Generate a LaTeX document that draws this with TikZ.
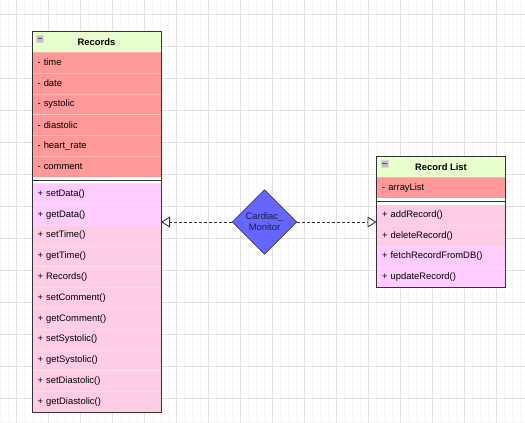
\documentclass[tikz,border=0pt]{standalone}
\usepackage{fontspec}
\setmainfont{Liberation Sans}
\usetikzlibrary{positioning}
\usetikzlibrary{fit}
\usetikzlibrary{arrows.meta}
\usetikzlibrary{shapes.geometric}

\definecolor{headgreen}{RGB}{230,255,204}
\definecolor{attrred}{RGB}{255,153,153}
\definecolor{opspink}{RGB}{255,204,230}
\definecolor{opsviolet}{RGB}{255,204,255}
\definecolor{monitorblue}{RGB}{102,102,255}
\definecolor{monitortext}{RGB}{26,26,77}
\definecolor{outline}{RGB}{51,51,51}
\definecolor{gridmajor}{RGB}{226,226,226}
\definecolor{gridminor}{RGB}{247,247,247}

\begin{document}
\begin{tikzpicture}[x=1pt,y=-1pt,node distance=0pt,font=\fontsize{9.4}{11}\selectfont,
  >={Triangle[length=9pt,width=11pt,fill=white]},
  every node/.style={outer sep=0pt},
  head/.style={rectangle,fill=headgreen,minimum width=129pt,minimum height=20.4pt,inner sep=0pt,font=\fontsize{9.4}{11}\selectfont\bfseries},
  row/.style={rectangle,draw=white,draw opacity=0.25,minimum height=20.8pt,text width=118pt,inner xsep=5.5pt,inner ysep=0pt,align=left},
  attr/.style={row,fill=attrred},
  opa/.style={row,fill=opspink},
  opb/.style={row,fill=opsviolet},
  sepbox/.style={rectangle,fill=white,minimum width=129pt,minimum height=6.5pt,inner sep=0pt,
    path picture={\draw[outline,line width=0.9pt] (path picture bounding box.west) -- (path picture bounding box.east);}},
  classbox/.style={rectangle,draw=outline,line width=0.9pt,inner sep=0pt},
  icon/.style={rectangle,fill=gray!50,draw=gray!30,minimum width=7pt,minimum height=6.5pt,inner sep=0pt,
    path picture={\draw[black!65,line width=1.2pt] ([xshift=1.3pt]path picture bounding box.west) -- ([xshift=-1.3pt]path picture bounding box.east);}},
  monitor/.style={diamond,draw=outline,fill=monitorblue,minimum width=64.5pt,minimum height=64.5pt,inner sep=0pt,align=center,text=monitortext},
  link/.style={draw=outline,line width=0.9pt,dash pattern=on 3pt off 2pt,->}]
  \useasboundingbox (0,0) rectangle (525,423);
  % grid
  \foreach \gx in {0,8,...,520} \draw[gridminor,line width=0.8pt] (\gx,0) -- (\gx,423);
  \foreach \gy in {6,14,...,422} \draw[gridminor,line width=0.8pt] (0,\gy) -- (525,\gy);
  \foreach \gx in {16,48,...,520} \draw[gridmajor,line width=0.8pt] (\gx,0) -- (\gx,423);
  \foreach \gy in {14,46,...,422} \draw[gridmajor,line width=0.8pt] (0,\gy) -- (525,\gy);
  %
  % Records
  \node[head] (recHead) at (96.5,41.9) {Records};
  \node[attr] (time)       [below=of recHead]    {- time};
  \node[attr] (date)       [below=of time]       {- date};
  \node[attr] (systolic)   [below=of date]       {- systolic};
  \node[attr] (diastolic)  [below=of systolic]   {- diastolic};
  \node[attr] (heartRate)  [below=of diastolic]  {- heart\_rate};
  \node[attr] (comment)    [below=of heartRate]  {- comment};
  \node[sepbox] (recSep)   [below=of comment]    {};
  \node[opb] (setData)     [below=of recSep]     {+ setData()};
  \node[opb] (getData)     [below=of setData]    {+ getData()};
  \node[opa] (setTime)     [below=of getData]    {+ setTime()};
  \node[opa] (getTime)     [below=of setTime]    {+ getTime()};
  \node[opa] (recCtor)     [below=of getTime]    {+ Records()};
  \node[opa] (setComment)  [below=of recCtor]    {+ setComment()};
  \node[opa] (getComment)  [below=of setComment] {+ getComment()};
  \node[opa] (setSystolic) [below=of getComment] {+ setSystolic()};
  \node[opa] (getSystolic) [below=of setSystolic]{+ getSystolic()};
  \node[opa] (setDiastolic)[below=of getSystolic]{+ setDiastolic()};
  \node[opa] (getDiastolic)[below=of setDiastolic]{+ getDiastolic()};
  \node[classbox,fit=(recHead)(recSep)(getDiastolic)] (recordsBox) {};
  \node[icon] (recIcon) at ([xshift=8pt,yshift=-7pt]recHead.north west) {};
  %
  % Record List
  \node[head] (listHead) at (441,167) {Record List};
  \node[attr] (arrayList)  [below=of listHead]   {- arrayList};
  \node[sepbox] (listSep)  [below=of arrayList]  {};
  \node[opa] (addRecord)   [below=of listSep]    {+ addRecord()};
  \node[opa] (deleteRecord)[below=of addRecord]  {+ deleteRecord()};
  \node[opb] (fetchRecord) [below=of deleteRecord]{+ fetchRecordFromDB()};
  \node[opb] (updateRecord)[below=of fetchRecord]{+ updateRecord()};
  \node[classbox,fit=(listHead)(listSep)(updateRecord)] (listBox) {};
  \node[icon] (listIcon) at ([xshift=8pt,yshift=-7pt]listHead.north west) {};
  %
  \node[monitor] (monitor) at (264.5,222) {Cardiac\_\\Monitor};
  \draw[link] (monitor.west) -- (monitor.west -| recordsBox.east);
  \draw[link] (monitor.east) -- (monitor.east -| listBox.west);
\end{tikzpicture}
\end{document}
